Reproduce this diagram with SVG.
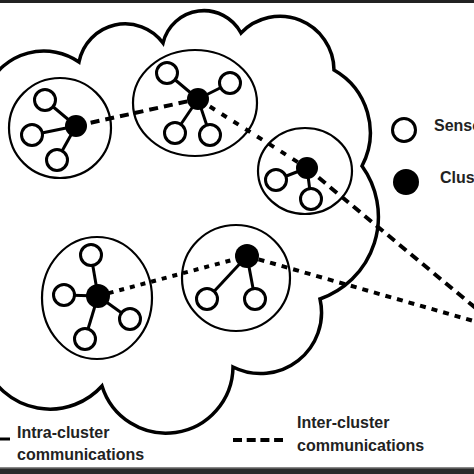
<svg xmlns="http://www.w3.org/2000/svg" width="474" height="474" viewBox="0 0 474 474">
<style>
.cloud{fill:none;stroke:#000;stroke-width:3.5;stroke-linejoin:miter}
.cl{fill:none;stroke:#000;stroke-width:2.2}
.s{fill:#fff;stroke:#000;stroke-width:3}
.h{fill:#000}
.intra{stroke:#000;stroke-width:3;fill:none}
.inter{stroke:#000;stroke-width:4;fill:none}
.t{font-family:"Liberation Sans",Arial,sans-serif;font-weight:bold;font-size:16px;fill:#222}
</style>
<rect width="474" height="474" fill="#fff"/>
<rect x="0" y="0" width="474" height="3" fill="#222"/>
<rect x="0" y="468" width="474" height="6" fill="#2a2a2a"/>
<rect x="0" y="467" width="474" height="1.5" fill="#888"/>

<path class="cloud" d="M -12,86 A 62 62 0 0 1 79,62 A 47 47 0 0 1 163,43 A 42 42 0 0 1 241,33 A 54 54 0 0 1 334,70 A 72 72 0 0 1 362,166 A 87 87 0 0 1 320,299 A 61 61 0 0 1 233,367 A 67 67 0 0 1 102,386 A 70 70 0 0 1 -15,365"/>

<g id="connectors">
  <g id="intra">
    <line class="intra" x1="76" y1="126" x2="45" y2="100"/>
    <line class="intra" x1="76" y1="126" x2="32" y2="135"/>
    <line class="intra" x1="76" y1="126" x2="57" y2="160"/>
    <line class="intra" x1="198" y1="99" x2="167" y2="73"/>
    <line class="intra" x1="198" y1="99" x2="230" y2="83"/>
    <line class="intra" x1="198" y1="99" x2="175" y2="133"/>
    <line class="intra" x1="198" y1="99" x2="210" y2="135"/>
    <line class="intra" x1="307" y1="168" x2="276" y2="180"/>
    <line class="intra" x1="307" y1="168" x2="311" y2="199"/>
    <line class="intra" x1="98" y1="296" x2="91" y2="255"/>
    <line class="intra" x1="98" y1="296" x2="64" y2="295"/>
    <line class="intra" x1="98" y1="296" x2="130" y2="319"/>
    <line class="intra" x1="98" y1="296" x2="85" y2="339"/>
    <line class="intra" x1="247" y1="256" x2="207" y2="299"/>
    <line class="intra" x1="247" y1="256" x2="255" y2="299"/>
  </g>
  <g id="inter">
    <line class="inter" x1="76" y1="126" x2="198" y2="99" stroke-dasharray="9 6"/>
    <line class="inter" x1="198" y1="99" x2="307" y2="168" stroke-width="3.5" stroke-dasharray="6 8"/>
    <line class="inter" x1="307" y1="168" x2="484" y2="315" stroke-dasharray="9 6"/>
    <line class="inter" x1="98" y1="296" x2="247" y2="256" stroke-dasharray="5 6"/>
    <line class="inter" x1="247" y1="256" x2="484" y2="324" stroke-dasharray="6 6"/>
  </g>
</g>

<g id="cluster1">
  <ellipse class="cl" cx="60" cy="128" rx="51" ry="50"/>
  <circle class="s" cx="45" cy="100" r="10.5"/>
  <circle class="s" cx="32" cy="135" r="10.5"/>
  <circle class="s" cx="57" cy="160" r="10.5"/>
  <circle class="h" cx="76" cy="126" r="11"/>
</g>
<g id="cluster2">
  <ellipse class="cl" cx="195" cy="103" rx="62" ry="53"/>
  <circle class="s" cx="167" cy="73" r="10.5"/>
  <circle class="s" cx="230" cy="83" r="10.5"/>
  <circle class="s" cx="175" cy="133" r="10.5"/>
  <circle class="s" cx="210" cy="135" r="10.5"/>
  <circle class="h" cx="198" cy="99" r="11"/>
</g>
<g id="cluster3">
  <ellipse class="cl" cx="305" cy="171" rx="47" ry="43"/>
  <circle class="s" cx="276" cy="180" r="10.5"/>
  <circle class="s" cx="311" cy="199" r="10.5"/>
  <circle class="h" cx="307" cy="168" r="11"/>
</g>
<g id="cluster4">
  <ellipse class="cl" cx="97" cy="298" rx="55" ry="61"/>
  <circle class="s" cx="91" cy="255" r="10.5"/>
  <circle class="s" cx="64" cy="295" r="10.5"/>
  <circle class="s" cx="130" cy="319" r="10.5"/>
  <circle class="s" cx="85" cy="339" r="10.5"/>
  <circle class="h" cx="98" cy="296" r="12"/>
</g>
<g id="cluster5">
  <ellipse class="cl" cx="236" cy="278" rx="54" ry="53"/>
  <circle class="s" cx="207" cy="299" r="10.5"/>
  <circle class="s" cx="255" cy="299" r="10.5"/>
  <circle class="h" cx="247" cy="256" r="12"/>
</g>

<g id="legend">
  <circle class="s" cx="404" cy="130" r="11.5"/>
  <text class="t" x="434" y="131">Sensor</text>
  <circle class="h" cx="406" cy="182" r="13"/>
  <text class="t" x="440" y="183">Cluster</text>
  <line class="intra" x1="0" y1="439" x2="10" y2="439" stroke-width="3.5"/>
  <text class="t" x="17" y="438">Intra-cluster</text>
  <text class="t" x="17" y="460">communications</text>
  <line class="inter" x1="233" y1="440" x2="283" y2="440" stroke-dasharray="9 4.7"/>
  <text class="t" x="297" y="428">Inter-cluster</text>
  <text class="t" x="297" y="451">communications</text>
</g>
</svg>
